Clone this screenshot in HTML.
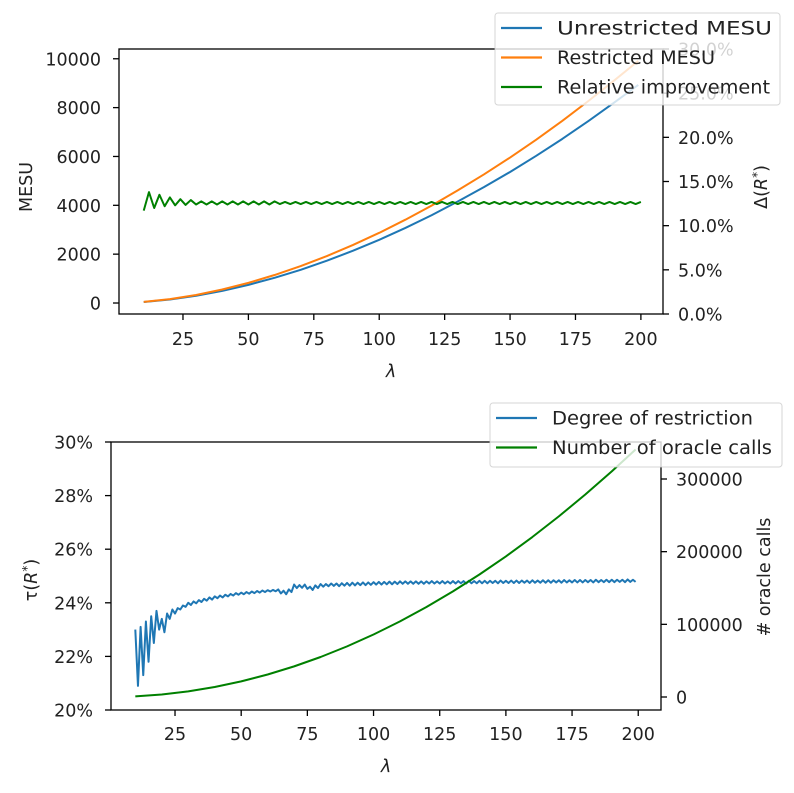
<!DOCTYPE html>
<html><head><meta charset="utf-8">
<style>
html,body{margin:0;padding:0;background:#fff;}
svg{display:block;font-family:"DejaVu Sans","Liberation Sans",sans-serif;}
</style></head>
<body>
<svg id="fig" width="794" height="793" viewBox="0 0 794 793" xmlns="http://www.w3.org/2000/svg"></svg>
<script>
// ---------- data ----------
const lamSmooth = [10,20,30,40,50,60,70,80,90,100,110,120,130,140,150,160,170,180,190,199];
const unrestrictedMesu = [41,143,296,497,743,1032,1361,1732,2141,2588,3073,3593,4154,4743,5365,6026,6721,7456,8223,8930];
const restrictedMesu = [46,159,329,552,825,1146,1511,1923,2377,2873,3411,3988,4611,5265,5955,6689,7460,8276,9128,9912];
const relImprovement = [11.7,13.8,12.0,13.5,12.2,13.2,12.3,13.0,12.35,12.9,
 12.4,12.75,12.4,12.75,12.4,12.75,12.4,12.75,12.4,12.75,12.4,12.75,12.4,12.75,12.4,12.75,
 12.45,12.68,12.45,12.68,12.45,12.68,12.45,12.68,12.45,12.68,12.45,12.68,12.45,12.68,12.45,12.68,
 12.45,12.68,12.45,12.68,12.45,12.68,12.45,12.68,12.45,12.68,12.45,12.68,12.45,12.68,12.45,12.68,
 12.45,12.68,12.45,12.68,12.45,12.68,12.45,12.68,12.45,12.68,12.45,12.68,12.45,12.68,12.45,12.68,
 12.45,12.68,12.45,12.68,12.45,12.68,12.45,12.68,12.45,12.68,12.45,12.68,12.45,12.68,12.45,12.68,12.45,
 12.68,12.45,12.68,12.45,12.68];
const restriction = [23.0,20.9,23.1,21.3,23.3,21.8,23.5,22.5,23.7,23.0,
 23.4,22.9,23.6,23.4,23.75,23.6,23.8,23.75,23.9,23.85,
 24.0,23.92,24.05,23.98,24.1,24.03,24.15,24.08,24.2,24.12,
 24.24,24.17,24.27,24.2,24.3,24.24,24.33,24.27,24.36,24.3,
 24.38,24.32,24.4,24.34,24.42,24.36,24.44,24.38,24.46,24.4,
 24.47,24.42,24.48,24.43,24.5,24.35,24.45,24.32,24.5,24.4,
 24.68,24.55,24.66,24.56,24.68,24.52,24.6,24.48,24.65,24.55,
 24.7,24.6,24.7,24.62,24.72,24.63,24.72,24.62,24.73,24.64,
 24.74,24.64,24.75,24.65,24.75,24.66,24.76,24.66,24.76,24.67,
 24.77,24.68,24.78,24.68,24.78,24.69,24.79,24.69,24.79,24.7,
 24.8,24.71,24.8,24.71,24.8,24.71,24.8,24.71,24.8,24.71,
 24.8,24.72,24.81,24.72,24.8,24.72,24.81,24.72,24.8,24.72,
 24.81,24.72,24.81,24.73,24.81,24.72,24.82,24.73,24.81,24.73,
 24.82,24.73,24.82,24.73,24.82,24.74,24.82,24.73,24.83,24.74,
 24.82,24.74,24.83,24.74,24.83,24.74,24.83,24.75,24.83,24.74,
 24.84,24.75,24.83,24.75,24.84,24.75,24.84,24.75,24.84,24.76,
 24.84,24.75,24.85,24.76,24.84,24.76,24.85,24.76,24.85,24.76,
 24.85,24.77,24.85,24.76,24.86,24.77,24.85,24.77,24.86,24.77,
 24.86,24.77,24.86,24.78,24.86,24.77,24.87,24.78,24.86,24.78];
const oracleCalls = [860,3440,7740,13760,21500,30960,42140,55040,69660,86000,104060,123840,145340,168560,193500,220160,248540,278640,310460,340570];
const xTicks = [25,50,75,100,125,150,175,200];
const mesuTicks = [0,2000,4000,6000,8000,10000];
const pctTicks = [0,5,10,15,20,25,30];
const tauTicks = [20,22,24,26,28,30];
const oracleTicks = [0,100000,200000,300000];

const lamRel = []; for (let i = 0; i < relImprovement.length; i++) lamRel.push(10 + 2*i);
const lamRes = []; for (let i = 0; i < restriction.length; i++) lamRes.push(10 + i);

// ---------- drawing ----------
const NS = "http://www.w3.org/2000/svg";
const svg = document.getElementById('fig');
function mk(tag, attrs, parent, text){
  const e = document.createElementNS(NS, tag);
  for (const k in attrs) e.setAttribute(k, attrs[k]);
  if (text !== undefined) e.textContent = text;
  (parent || svg).appendChild(e);
  return e;
}
function lin(d0,d1,p0,p1){ return v => p0 + (v-d0)*(p1-p0)/(d1-d0); }

const C_BLUE = '#1f77b4', C_ORANGE = '#ff7f0e', C_GREEN = 'green';
const FS = 17.5;

const T = {l:119, r:663, t:49, b:314};
const xT = lin(0.55, 208.45, T.l, T.r);
const yMesu = lin(-450, 10400, T.b, T.t);
const yPct = lin(0, 30, T.b, T.t);

function polyline(xs, ys, xf, yf, color, name, parent){
  let d = '';
  for (let i = 0; i < xs.length; i++) d += (i ? 'L' : 'M') + xf(xs[i]).toFixed(2) + ',' + yf(ys[i]).toFixed(2);
  const p = mk('path', {d:d, fill:'none', stroke:color, 'stroke-width':2, 'stroke-linejoin':'round'}, parent);
  
  
  return p;
}

const gTop = mk('g', {});


polyline(lamSmooth, unrestrictedMesu, xT, yMesu, C_BLUE, 'unrestricted-mesu-line', gTop);
polyline(lamSmooth, restrictedMesu, xT, yMesu, C_ORANGE, 'restricted-mesu-line', gTop);
polyline(lamRel, relImprovement, xT, yPct, C_GREEN, 'relative-improvement-line', gTop);

function frame(A, parent, name){
  const r = mk('rect', {x:A.l, y:A.t, width:A.r-A.l, height:A.b-A.t, fill:'none', stroke:'#000', 'stroke-width':1.3}, parent);
  
  
}
frame(T, gTop, 'top-axes-frame');

function xAxis(A, xf, parent, prefix, base, lbase){
  xTicks.forEach(v => {
    const x = xf(v);
    mk('line', {x1:x, x2:x, y1:A.b, y2:A.b+6, stroke:'#000', 'stroke-width':1.3}, parent);
    const t = mk('text', {x:x, y:A.b+base, 'font-size':FS, 'text-anchor':'middle', fill:'#222'}, parent, String(v));
    
    
  });
  const xl = mk('text', {x:(A.l+A.r)/2, y:A.b+lbase, 'font-size':FS, 'text-anchor':'middle', 'font-style':'italic', fill:'#222'}, parent, 'λ');
  
  
}
function yAxis(A, ticks, yf, fmt, side, parent, name){
  ticks.forEach(v => {
    const y = yf(v);
    let t;
    if (side === 'left'){
      mk('line', {x1:A.l-6, x2:A.l, y1:y, y2:y, stroke:'#000', 'stroke-width':1.3}, parent);
      t = mk('text', {x:A.l-18, y:y+6.5, 'font-size':FS, 'text-anchor':'end', fill:'#222'}, parent, fmt(v));
    } else {
      mk('line', {x1:A.r, x2:A.r+6, y1:y, y2:y, stroke:'#000', 'stroke-width':1.3}, parent);
      t = mk('text', {x:A.r+15, y:y+6.5, 'font-size':FS, 'text-anchor':'start', fill:'#222'}, parent, fmt(v));
    }
    
    
  });
}
xAxis(T, xT, gTop, 'top', 31, 63);
yAxis(T, mesuTicks, yMesu, v => String(v), 'left', gTop, 'mesu-tick-label');
yAxis(T, pctTicks, yPct, v => v.toFixed(1) + '%', 'right', gTop, 'improvement-tick-label');

let lbl = mk('text', {x:0, y:0, 'font-size':FS, 'text-anchor':'middle', fill:'#222', transform:'translate(32,187) rotate(-90)'}, gTop, 'MESU');


lbl = mk('text', {x:0, y:0, 'font-size':FS, 'text-anchor':'middle', fill:'#222', transform:'translate(767,187) rotate(-90)'}, gTop);


lbl.innerHTML = '<tspan>Δ(</tspan><tspan font-style="italic">R</tspan><tspan dy="-6" font-size="12">*</tspan><tspan dy="6">)</tspan>';

// ===== bottom axes =====
const B = {l:111, r:661, t:442, b:710};
const xB = lin(0.55, 208.45, 110.3, 660.6);
const yTau = lin(20, 30, B.b, B.t);
const yOracle = lin(0, 300000, 697, 479);

const gBot = mk('g', {});


polyline(lamRes, restriction, xB, yTau, C_BLUE, 'degree-of-restriction-line', gBot);
polyline(lamSmooth, oracleCalls, xB, yOracle, C_GREEN, 'oracle-calls-line', gBot);
frame(B, gBot, 'bottom-axes-frame');
xAxis(B, xB, gBot, 'bottom', 30, 62);
yAxis(B, tauTicks, yTau, v => v + '%', 'left', gBot, 'restriction-tick-label');
yAxis(B, oracleTicks, yOracle, v => String(v), 'right', gBot, 'oracle-tick-label');

lbl = mk('text', {x:0, y:0, 'font-size':FS, 'text-anchor':'middle', fill:'#222', transform:'translate(37,580) rotate(-90)'}, gBot);


lbl.innerHTML = '<tspan>τ(</tspan><tspan font-style="italic">R</tspan><tspan dy="-6" font-size="12">*</tspan><tspan dy="6">)</tspan>';
lbl = mk('text', {x:0, y:0, 'font-size':FS, 'text-anchor':'middle', fill:'#222', transform:'translate(770,577) rotate(-90)'}, gBot, '# oracle calls');



// ===== legends =====
function legend(x, y, w, h, entries, name){
  const g = mk('g', {});
  
  
  mk('rect', {x:x, y:y, width:w, height:h, rx:3, fill:'#fff', 'fill-opacity':0.8, stroke:'#ccc', 'stroke-opacity':0.8}, g);
  entries.forEach((e, i) => {
    const cy = y + 15 + i*29.5;
    const ln = mk('line', {x1:x+6, x2:x+47, y1:cy, y2:cy, stroke:e[1], 'stroke-width':2.2}, g);
    
    
    const t = mk('text', {x:x+62, y:cy+6.5, 'font-size':18.5, fill:'#222', textLength:e[2], lengthAdjust:'spacingAndGlyphs'}, g, e[0]);
    
    
  });
}
legend(495, 13, 285, 92, [['Unrestricted MESU', C_BLUE, 215], ['Restricted MESU', C_ORANGE, 158], ['Relative improvement', C_GREEN, 213]], 'top-legend');
legend(490, 403, 292, 64, [['Degree of restriction', C_BLUE, 201], ['Number of oracle calls', C_GREEN, 220]], 'bottom-legend');
</script>
</body></html>
